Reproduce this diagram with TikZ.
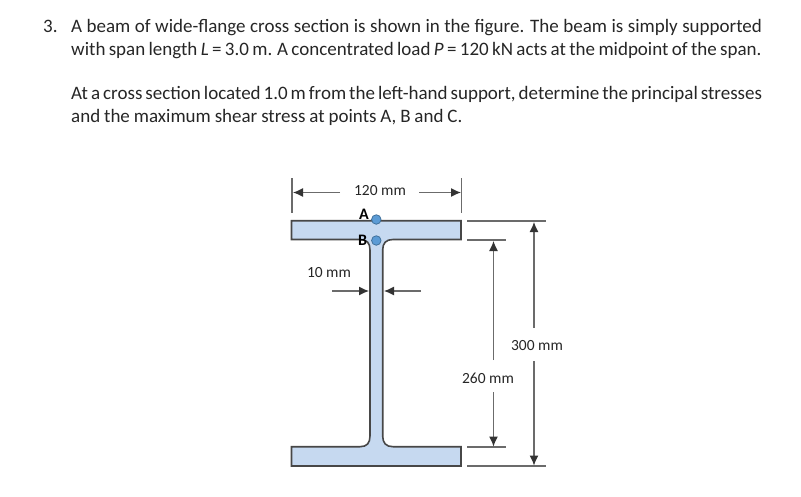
\documentclass[tikz,border=0pt]{standalone}
\usepackage{fontspec}
\setmainfont{Carlito}
\usetikzlibrary{arrows.meta}
\tikzset{
  para/.style={anchor=base west,inner sep=0pt,text=black!85,font=\fontsize{19}{21}\selectfont},
  dimtext/.style={inner sep=1pt,text=black!85,font=\fontsize{15.5}{17}\selectfont},
  ptlabel/.style={inner sep=0pt,text=black,font=\bfseries\fontsize{16}{18}\selectfont},
  beam/.style={draw=black!72,line width=1.6pt,fill=beamblue,line join=miter},
  tick/.style={draw=black!58,line width=1.2pt},
  dimarrow/.style={draw=black!58,line width=1.2pt,-{Latex[length=10pt,width=9pt,black!80]}},
  pt/.style={circle,draw=ptedge,line width=.8pt,fill=ptblue,minimum size=9.5pt,inner sep=0pt},
}
\definecolor{beamblue}{RGB}{198,217,240}
\definecolor{ptblue}{RGB}{91,155,213}
\definecolor{ptedge}{RGB}{65,113,156}
\begin{document}
\begin{tikzpicture}[x=1pt,y=-1pt]
\useasboundingbox (0,0) rectangle (801,496);
\node[para] (n) at (43,32) {3.};
\node[para] (l1) at (71,32) {\spaceskip=4.5pt A beam of wide-flange cross section is shown in the figure. The beam is simply supported};
\node[para] (l2) at (71,55) {\spaceskip=3.35pt with span length \textit{L} = 3.0 m. A concentrated load \textit{P} = 120 kN acts at the midpoint of the span.};
\node[para] (l3) at (71,99.5) {\spaceskip=3pt At a cross section located 1.0 m from the left-hand support, determine the principal stresses};
\node[para] (l4) at (71,122.5) {\spaceskip=3.9pt and the maximum shear stress at points A, B and C.};
% beam
\draw[beam] (291.5,220.7) -- (461,220.7) -- (461,239.5) -- (393,239.5)
  .. controls (386,239.5) and (382.7,243) .. (382.7,250) -- (382.7,436)
  .. controls (382.7,443) and (386,446.7) .. (393,446.7) -- (461,446.7) -- (461,466) -- (291.5,466) -- (291.5,446.7) -- (360,446.7)
  .. controls (367,446.7) and (370,443) .. (370,436) -- (370,250)
  .. controls (370,243) and (367,239.5) .. (360,239.5) -- (291.5,239.5) -- cycle;
\node[pt] (A) at (376.3,219.5) {};
\node[pt] (B) at (376.3,240.5) {};
\node[ptlabel] (la) at (364,214) {A};
\node[ptlabel] (lb) at (362.5,240) {B};
% 120 mm
\coordinate (tl1) at (292,178); \coordinate (tl2) at (292,213);
\coordinate (tr1) at (461.5,178); \coordinate (tr2) at (461.5,213);
\draw[tick] (tl1) -- (tl2);
\draw[tick] (tr1) -- (tr2);
\node[dimtext] (d120) at (380,190.5) {120 mm};
\coordinate (w1) at (340,192.5); \coordinate (w1e) at (293,192.5);
\coordinate (w2) at (419,192.5); \coordinate (w2e) at (461,192.5);
\draw[dimarrow] (w1) -- (w1e);
\draw[dimarrow] (w2) -- (w2e);
% 10 mm
\node[dimtext] (d10) at (329,272.5) {10 mm};
\coordinate (a1) at (332,291); \coordinate (a1e) at (369,291);
\coordinate (a2) at (421,291); \coordinate (a2e) at (384,291);
\draw[dimarrow] (a1) -- (a1e);
\draw[dimarrow] (a2) -- (a2e);
% right ticks
\coordinate (r1a) at (467,221); \coordinate (r1b) at (546,221);
\coordinate (r2a) at (467,240); \coordinate (r2b) at (506,240);
\coordinate (r3a) at (467,447); \coordinate (r3b) at (506,447);
\coordinate (r4a) at (467,466); \coordinate (r4b) at (546,466);
\draw[tick] (r1a) -- (r1b);
\draw[tick] (r2a) -- (r2b);
\draw[tick] (r3a) -- (r3b);
\draw[tick] (r4a) -- (r4b);
% 260
\node[dimtext] (d260) at (488,378) {260 mm};
\coordinate (b1) at (493.5,360); \coordinate (b1e) at (493.5,241);
\coordinate (b2) at (493.5,392); \coordinate (b2e) at (493.5,446.5);
\draw[dimarrow] (b1) -- (b1e);
\draw[dimarrow] (b2) -- (b2e);
% 300
\node[dimtext] (d300) at (537,345.5) {300 mm};
\coordinate (c1) at (534,328); \coordinate (c1e) at (534,222);
\coordinate (c2) at (534,361); \coordinate (c2e) at (534,465.5);
\draw[dimarrow] (c1) -- (c1e);
\draw[dimarrow] (c2) -- (c2e);
\end{tikzpicture}
\end{document}
